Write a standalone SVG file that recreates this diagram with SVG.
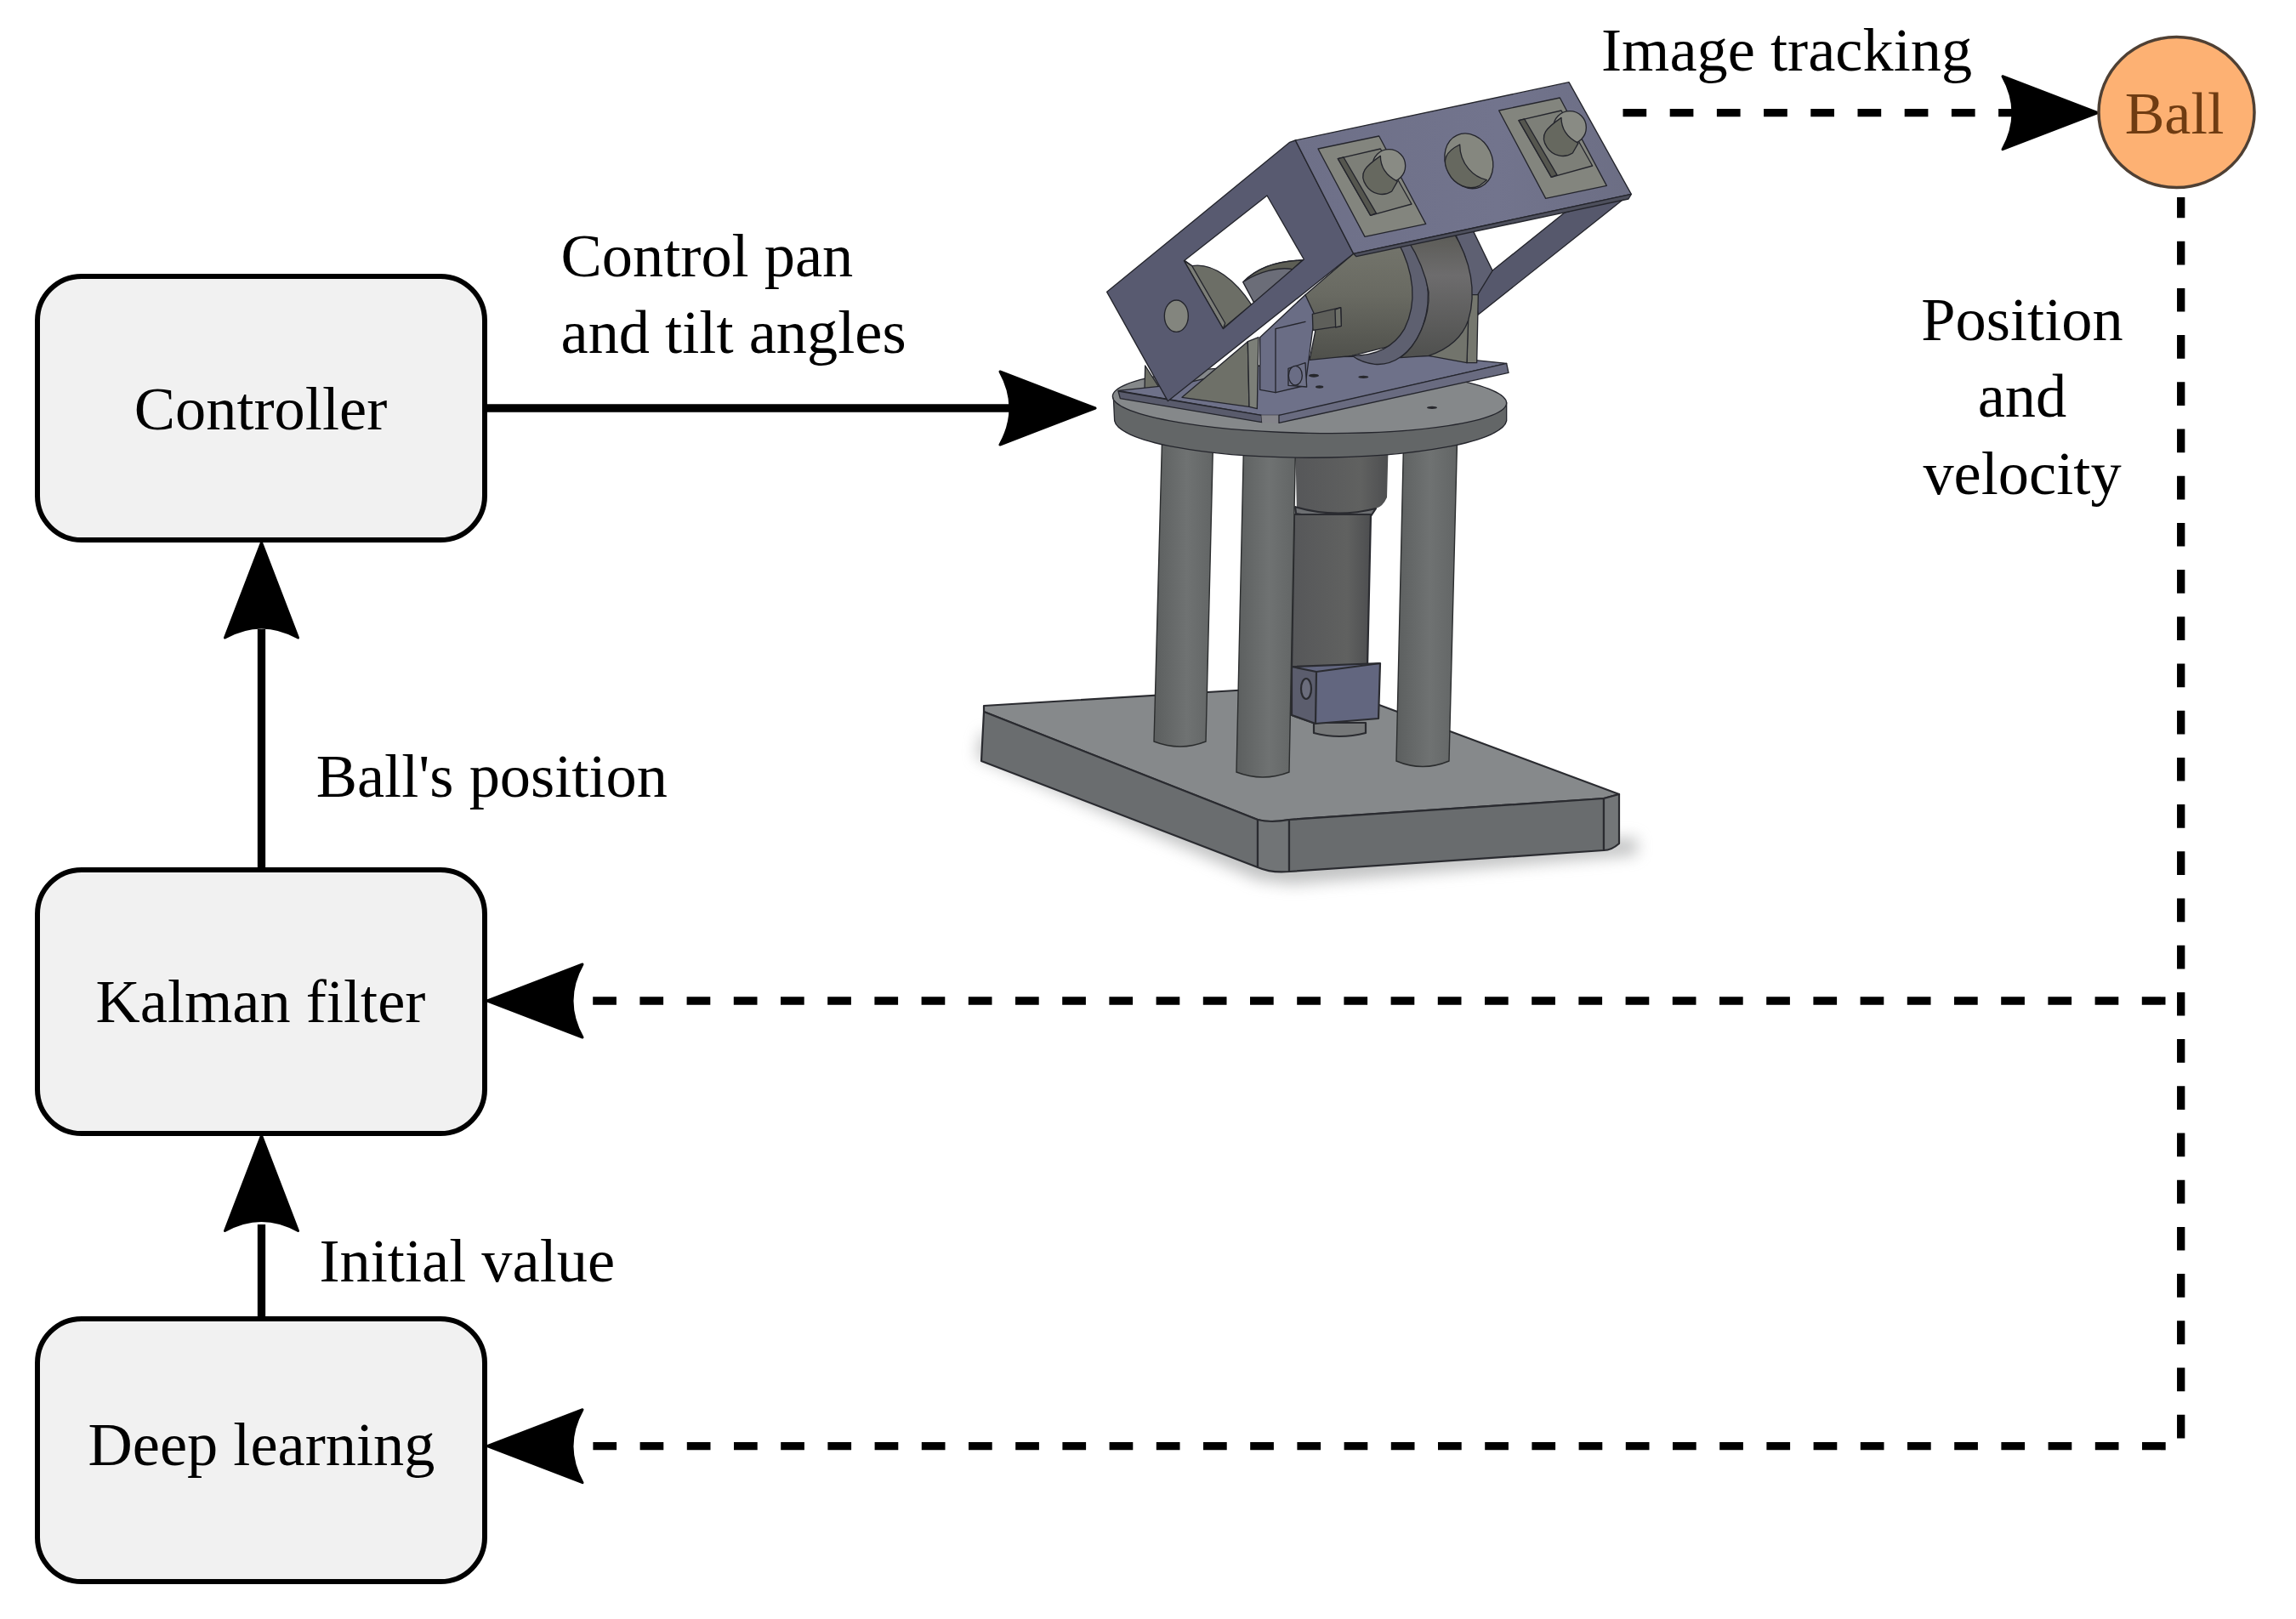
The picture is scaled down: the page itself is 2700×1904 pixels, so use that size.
<svg xmlns="http://www.w3.org/2000/svg" width="2700" height="1904" viewBox="0 0 2700 1904">
<style>
text{font-family:"Liberation Serif","Times New Roman",serif;font-size:72.4px;fill:#000}
.m{text-anchor:middle}
.box{fill:#f1f1f1;stroke:#000;stroke-width:6}
.solid{fill:none;stroke:#000;stroke-width:9.3}
.dash{fill:none;stroke:#000;stroke-width:9.3;stroke-dasharray:27.7 27.5}
.head{fill:#000;stroke:#000;stroke-width:3;stroke-linejoin:round}
.ln{stroke:#24252c;stroke-width:4;stroke-linejoin:round;stroke-linecap:round}
.th{stroke:#2a2b30;stroke-width:2.2;stroke-linejoin:round}
.post{fill:url(#gPost);stroke:#2b2d2e;stroke-width:1.4}
</style>
<defs>
<path id="ah" class="head" d="M-1 0L-113 -43Q-89 0 -113 43Z"/>
<linearGradient id="gPost" x1="0" x2="1" y1="0" y2="0"><stop offset="0" stop-color="#5c5f5f"/><stop offset=".55" stop-color="#6f7272"/><stop offset="1" stop-color="#626565"/></linearGradient>
<linearGradient id="gCyl" x1="0" x2="0" y1="0" y2="1"><stop offset="0" stop-color="#74756c"/><stop offset=".45" stop-color="#696a62"/><stop offset="1" stop-color="#4f504b"/></linearGradient>
<linearGradient id="gCyl2" x1="0" x2="0" y1="0" y2="1"><stop offset="0" stop-color="#5a5a55"/><stop offset=".35" stop-color="#6d6c6d"/><stop offset="1" stop-color="#4f504e"/></linearGradient>
<linearGradient id="gFace" x1="0" x2="1" y1="0" y2="0"><stop offset="0" stop-color="#6e7088"/><stop offset=".6" stop-color="#72748d"/><stop offset="1" stop-color="#6c6e84"/></linearGradient>
<linearGradient id="gMotor" x1="0" x2="1" y1="0" y2="0"><stop offset="0" stop-color="#565759"/><stop offset=".7" stop-color="#606160"/><stop offset="1" stop-color="#4d4e50"/></linearGradient>
<filter id="blur" x="-20%" y="-50%" width="140%" height="200%"><feGaussianBlur stdDeviation="9"/></filter>
</defs>
<rect width="2700" height="1904" fill="#fff"/>

<g id="node-robot">
<g id="robot-base">
<path d="M1148 890L1480 1035L1520 1040L1925 1005L1925 985L1520 1010L1480 1005L1155 860Z" fill="#8d8f90" opacity=".55" filter="url(#blur)"/>
<path d="M1157 830L1453 812L1560 806L1904 934L1886 939L1516 964Q1490 968 1479 964L1157 837Z" fill="#86898b" class="th"/>
<path d="M1157 837L1479 964L1479 1020L1154 895Z" fill="#6a6d6f" class="th"/>
<path d="M1479 964Q1495 968 1516 964L1516 1025Q1495 1027 1479 1020Z" fill="#717476" class="th"/>
<path d="M1516 964L1886 939L1886 1000L1516 1025Z" fill="#696c6e" class="th"/>
<path d="M1886 939L1904 934L1904 992Q1895 1000 1886 1000Z" fill="#737678" class="th"/>
</g>
<g id="robot-motor">
<path d="M1523 510H1633L1631 585Q1626 596 1618 598L1612 605H1525Z" fill="url(#gMotor)"/>
<path d="M1523 596Q1570 610 1618 598L1612 607Q1570 612 1524 604Z" fill="#6d6f72" class="th"/>
<path d="M1522 605H1612L1608 785H1519Z" fill="url(#gMotor)" class="th"/>
<path d="M1545 850H1606V862Q1575 870 1545 862Z" fill="#767879" class="th"/>
<path d="M1519 784L1623 780L1621 845L1547 851L1519 841Z" fill="#62667f" class="th"/>
<path d="M1519 784L1548 790L1547 851L1519 841Z" fill="#5b5d6d" class="th"/>
<path d="M1548 790L1623 780" fill="none" class="th"/>
<ellipse cx="1536" cy="810" rx="6" ry="12" fill="#6b6d7c" class="th"/>
</g>
<g id="robot-posts">
<path class="post" d="M1367 500H1427L1418 872Q1388 884 1357 872Z"/>
<path class="post" d="M1463 500H1524L1516 908Q1485 920 1454 908Z"/>
<path class="post" d="M1651 500H1714L1704 895Q1673 908 1642 895Z"/>
</g>
<g id="robot-top" transform="translate(1290 90) scale(.33333)">
<path d="M58 1130L62 1215A692 135 0 0 0 1445 1215L1445 1150Z" fill="#636667" class="ln"/>
<ellipse cx="750" cy="1140" rx="695" ry="118" fill="#85888a" class="ln" transform="rotate(1 750 1140)"/>
<path d="M170 1020L250 1145L168 1110Z" fill="#6d6f66" class="ln"/>
<path d="M75 1108L580 1195L650 1195L1445 1012L1180 985L700 990L300 1085Z" fill="#6e7189" class="ln"/>
<path d="M75 1110L580 1195L582 1220L82 1136Z" fill="#595b6c" class="ln"/>
<path d="M580 1195L642 1195L642 1224L582 1220Z" fill="#85858b"/>
<path d="M642 1195L1445 1012L1452 1045L642 1222Z" fill="#696b80" class="ln"/>
<path d="M300 1132L532 935L537 1165Z" fill="#6e7068" class="ln"/>
<path d="M532 935L570 920L565 1172L537 1165Z" fill="#7c7f78" class="ln"/>
<path d="M1880 415L1650 480L1395 685L1345 590L1290 570L1345 840Z" fill="#56586c" class="ln"/>
<path d="M1260 545L1320 530L1395 685L1340 775L1322 770L1300 640Z" fill="#5e6072" class="ln"/>
<path d="M1310 770L1345 770L1340 1010L1305 1010Z" fill="#75776e" class="ln"/>
<path d="M1170 985L1310 860L1305 1010Z" fill="#72746c" class="ln"/>
<path d="M905 625L1060 580L1100 590L1130 720L1100 890L1040 950L900 985L750 1000L770 900L735 770Z" fill="url(#gCyl)" class="ln"/>
<path d="M1060 580L1100 575C1170 670 1185 780 1150 880C1110 985 1040 1020 980 1015C950 1012 920 1000 900 985C990 985 1050 950 1085 890C1130 800 1120 690 1060 580Z" fill="#5e6070" class="ln"/>
<path d="M1095 575C1130 630 1160 700 1170 760C1175 850 1130 950 1070 992L1170 985C1230 965 1285 930 1310 860C1340 760 1320 650 1255 545Z" fill="url(#gCyl2)" class="ln"/>
<path d="M575 920L735 770L772 850L760 900L735 1090L630 1115L575 1105Z" fill="#6a6d85" class="ln"/>
<path d="M630 890L630 1115M630 890L735 865" fill="none" class="ln"/>
<path d="M675 1090L675 1030L735 1010L740 1095Z" fill="#6f7288" class="ln"/>
<ellipse cx="700" cy="1055" rx="24" ry="34" fill="#6a6d85" class="ln"/>
<path d="M760 838L860 815L862 880L762 895Z" fill="#5e5f5a" class="ln"/>
<path d="M840 822L860 815L862 880L842 885Z" fill="#6e7068" class="ln"/>
<g fill="#26272c">
<ellipse cx="765" cy="1055" rx="18" ry="6"/><ellipse cx="940" cy="1060" rx="18" ry="5"/><ellipse cx="785" cy="1095" rx="14" ry="5"/><ellipse cx="1182" cy="1168" rx="18" ry="5"/>
</g>
<path d="M515 725C570 670 650 650 725 648L640 730L555 800Z" fill="#6b6d78" class="ln"/>
<path d="M520 722C570 670 650 650 725 648L690 680C640 670 570 690 520 722Z" fill="#5d5e55" class="ln"/>
<path d="M335 668C410 655 490 720 545 805L445 888L430 890L310 650Z" fill="#6c6e66" class="ln"/>
<path d="M307 650L335 668L452 870L445 890Z" fill="#7c7e78" class="ln"/>
<path fill-rule="evenodd" d="M700 225L680 232L35 760L250 1145L905 625ZM600 420L730 645L445 890L307 650Z" fill="#585a70" class="ln"/>
<ellipse cx="280" cy="845" rx="42" ry="56" fill="#83857e" class="ln"/>
<path d="M700 225L1665 20L1885 415L905 625Z" fill="url(#gFace)" class="ln"/>
<path d="M905 625L1885 415L1875 432L915 635Z" fill="#4d4f5c" class="ln"/>
<g id="camera-left">
<path d="M780 255L995 210L1160 520L945 565Z" fill="#83857e" class="ln"/>
<path d="M850 290L1000 255L1110 450L965 490Z" fill="#7d7f78" class="ln"/>
<path d="M850 290L870 285L985 482L965 490Z" fill="#55564f" class="ln"/>
<ellipse cx="1030" cy="315" rx="58" ry="58" fill="#898b84" class="ln"/>
<path d="M1000 280C950 315 920 340 950 385C970 415 1010 425 1040 405L1060 370C1020 350 1000 320 1000 280Z" fill="#66685f" class="ln"/>
</g>
<g id="camera-right" transform="translate(638 -135)">
<path d="M780 255L995 210L1160 520L945 565Z" fill="#83857e" class="ln"/>
<path d="M850 290L1000 255L1110 450L965 490Z" fill="#7d7f78" class="ln"/>
<path d="M850 290L870 285L985 482L965 490Z" fill="#55564f" class="ln"/>
<ellipse cx="1030" cy="315" rx="58" ry="58" fill="#898b84" class="ln"/>
<path d="M1000 280C950 315 920 340 950 385C970 415 1010 425 1040 405L1060 370C1020 350 1000 320 1000 280Z" fill="#66685f" class="ln"/>
</g>
<ellipse cx="1312" cy="298" rx="82" ry="100" fill="#85877f" class="ln" transform="rotate(-25 1312 298)"/>
<path d="M1280 240C1230 265 1215 295 1240 340C1260 380 1310 405 1350 385L1375 365C1330 355 1280 310 1280 240Z" fill="#66685f" class="ln"/>
</g>
</g>

<g id="connectors">
<path class="solid" d="M571 480H1190"/><use href="#ah" transform="translate(1289 480)"/>
<path class="solid" d="M307.5 1022V740"/><use href="#ah" transform="translate(307.5 637) rotate(-90)"/>
<path class="solid" d="M307.5 1550V1440"/><use href="#ah" transform="translate(307.5 1334.5) rotate(-90)"/>
<path class="dash" d="M1908.5 132.7H2375"/><use href="#ah" transform="translate(2468 132.7)"/>
<path class="dash" stroke-dashoffset="3.5" d="M2564.7 232V1692"/>
<path class="dash" d="M2546.5 1177H680"/><use href="#ah" transform="translate(572 1177) rotate(180)"/>
<path class="dash" d="M2546.7 1700.7H680"/><use href="#ah" transform="translate(572 1700.7) rotate(180)"/>
</g>

<g id="node-controller"><rect class="box" x="44" y="325" width="526" height="310" rx="52"/><text class="m" x="306.5" y="505">Controller</text></g>
<g id="node-kalman"><rect class="box" x="44" y="1023" width="526" height="310" rx="52"/><text class="m" x="306.5" y="1202">Kalman filter</text></g>
<g id="node-deep"><rect class="box" x="44" y="1551" width="526" height="309" rx="52"/><text class="m" x="307.5" y="1723">Deep learning</text></g>
<g id="node-ball"><ellipse cx="2559.5" cy="132" rx="91.5" ry="88.5" fill="#fdb173" stroke="#4f4034" stroke-width="3.5"/><text class="m" x="2557" y="156.7" style="font-size:70px;fill:#6f3c12">Ball</text></g>

<g id="labels">
<text x="1883" y="82.7">Image tracking</text>
<text x="659.5" y="325">Control pan</text>
<text x="659.5" y="415">and tilt angles</text>
<text class="m" x="2378" y="400">Position</text>
<text class="m" x="2378" y="490">and</text>
<text class="m" x="2378" y="581">velocity</text>
<text x="371.7" y="937">Ball's position</text>
<text x="375.4" y="1507">Initial value</text>
</g>
</svg>
